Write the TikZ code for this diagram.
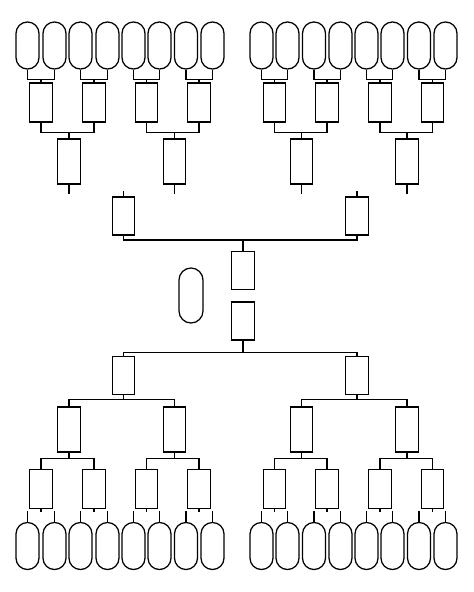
\documentclass[tikz,border=0pt]{standalone}
\usepackage{tikz}

\begin{document}
\begin{tikzpicture}[x=1pt,y=-1pt,line width=1.25pt,
		oval/.style={draw,rounded corners=11.4pt,minimum width=23pt,minimum height=47pt,inner sep=0pt},
		pbox/.style={draw,minimum width=22.5pt,minimum height=39pt,inner sep=0pt},
		gbox/.style={draw,minimum width=22.5pt,minimum height=45pt,inner sep=0pt},
		mbox/.style={draw,minimum width=22.5pt,minimum height=38pt,inner sep=0pt}]
	\useasboundingbox (0,0) rectangle (474,592);
	% ovals, top and bottom rows
	\foreach \x [count=\i] in {27.5,54.5,80.5,107.5,133.5,159.5,186,212.5,261.5,287.5,314,340.5,366.5,392.5,419,445.5}{
		\node[oval] (ot\i) at (\x,45.5) {};
		\node[oval] (ob\i) at (\x,546) {};
	}
	% parents
	\foreach \x [count=\i] in {41,94,146.5,199,274.5,327,380,432.5}{
		\node[pbox] (pt\i) at (\x,102.5) {};
		\node[pbox] (pb\i) at (\x,489) {};
	}
	% grandparents
	\foreach \x [count=\i] in {69,174.5,301.5,407}{
		\node[gbox] (gt\i) at (\x,161.5) {};
		\node[gbox] (gb\i) at (\x,429.5) {};
	}
	% middle
	\node[mbox] (ma) at (123.5,216) {};
	\node[mbox] (mb) at (357,216) {};
	\node[mbox] (ca) at (243,270.5) {};
	\node[mbox] (cb) at (243,321) {};
	\node[mbox] (na) at (123.5,375.5) {};
	\node[mbox] (nb) at (357,375.5) {};
	\node[draw,rounded corners=12pt,minimum width=24pt,minimum height=55pt,inner sep=0pt] (sp) at (191,295.5) {};

	% top branches
	\foreach \i [evaluate=\i as \a using int(2*\i-1), evaluate=\i as \b using int(2*\i)] in {1,...,8}{
		\draw (ot\a.south) |- ([yshift=3pt]pt\i.north) -| (ot\b.south);
		\draw (pt\i.north) -- ++(0,-3);
		\draw (pb\i.south) -- ++(0,3);
		\draw (ob\a.north) -- ++(0,-11);
		\draw (ob\b.north) -- ++(0,-11);
	}
	\foreach \i [evaluate=\i as \a using int(2*\i-1), evaluate=\i as \b using int(2*\i)] in {1,...,4}{
		\draw (pt\a.south) |- ([yshift=6pt]gt\i.north) -| (pt\b.south);
		\draw (gt\i.north) -- ++(0,-6);
		\draw (gt\i.south) -- ++(0,9);
		\draw (gb\i.south) -- ++(0,6);
		\draw (pb\a.north) |- ([yshift=-6pt]gb\i.south) -| (pb\b.north);
	}
	% centre
	\draw (ma.north) -- ++(0,-5);
	\draw (mb.north) -- ++(0,-5);
	\draw (ma.south) |- ([yshift=11pt]ca.north) -| (mb.south);
	\draw (ca.north) -- ++(0,-11);
	\draw (cb.south) -- ++(0,12);
	\draw (na.north) |- ([yshift=-12pt]cb.south) -| (nb.north);
	\draw (na.south) -- ++(0,4);
	\draw (nb.south) -- ++(0,4);
	\draw (gb1.north) |- ([yshift=-4pt]na.south) -| (gb2.north);
	\draw (gb3.north) |- ([yshift=-4pt]nb.south) -| (gb4.north);
\end{tikzpicture}
\end{document}
